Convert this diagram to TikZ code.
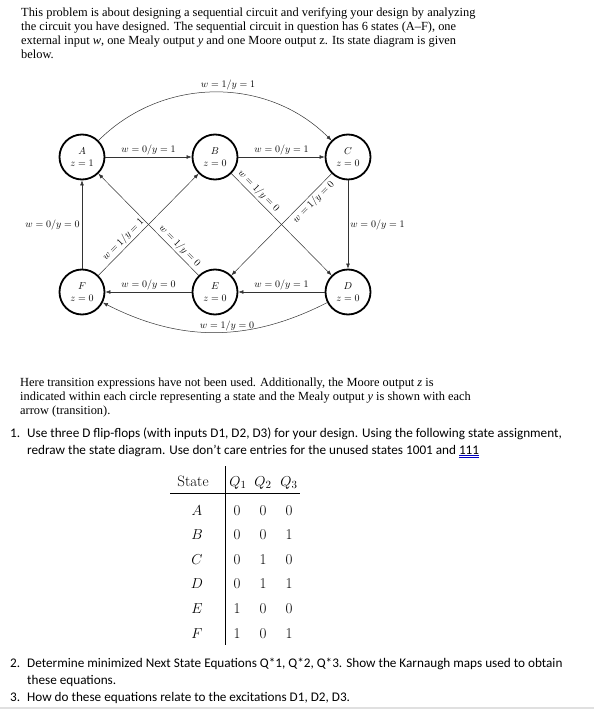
\documentclass[tikz,border=0pt]{standalone}
\usepackage{fontspec}
\newfontfamily\parafont{Liberation Serif}
\newfontfamily\calfont{Carlito}
\usetikzlibrary{arrows.meta}
\begin{document}
\begin{tikzpicture}[x=1pt,y=-1pt,
  state/.style={circle,draw,line width=1.8pt,minimum size=45pt,inner sep=0pt,align=center,font=\normalsize},
  tr/.style={line width=0.5pt,draw=black!80,-{Latex[length=5pt,width=3.8pt]}},
  lbl/.style={font=\normalsize,inner sep=2pt},
  ptxt/.style={anchor=base west,inner sep=0pt,font=\parafont\fontsize{12.4}{14}\selectfont},
  ctxt/.style={anchor=base west,inner sep=0pt,font=\calfont\fontsize{13.2}{15}\selectfont},
  tb/.style={anchor=base,inner sep=0pt,font=\fontsize{15}{18}\selectfont}]
\useasboundingbox (0,0) rectangle (594,709);
% paragraph 1
\node[ptxt] (p1) at (21,17) {This problem is about designing a sequential circuit and verifying your design by analyzing};
\node[ptxt] (p2) at (21,30.7) {the circuit you have designed. The sequential circuit in question has 6 states (A–F), one};
\node[ptxt] (p3) at (21,44.4) {external input \textit{w}, one Mealy output \textit{y} and one Moore output z. Its state diagram is given};
\node[ptxt] (p4) at (21,58.1) {below.};
% states
\node[state] (A) at (82,157) {$A$\\$z=1$};
\node[state] (B) at (215,157) {$B$\\$z=0$};
\node[state] (C) at (348,157) {$C$\\$z=0$};
\node[state] (F) at (82,292) {$F$\\$z=0$};
\node[state] (E) at (215,292) {$E$\\$z=0$};
\node[state] (D) at (348,292) {$D$\\$z=0$};
% transitions
\draw[tr] (A) -- node[above,lbl] (lab1) {$w=0/y=1$} (B);
\draw[tr] (B) -- node[above,lbl] (lab2) {$w=0/y=1$} (C);
\draw[tr] (A) to[bend left=45] node[pos=0.5,above,lbl,xshift=13pt] (lab3) {$w=1/y=1$} (C);
\draw[tr] (C) -- node[right,lbl] (lab4) {$w=0/y=1$} (D);
\draw[tr] (D) -- node[above,lbl] (lab5) {$w=0/y=1$} (E);
\draw[tr] (E) -- node[above,lbl] (lab6) {$w=0/y=0$} (F);
\draw[tr] (F) -- node[left,lbl] (lab7) {$w=0/y=0$} (A);
\draw[tr] (D) to[bend left=27] node[pos=0.5,above,lbl,inner sep=1pt,xshift=12pt] (lab8) {$w=1/y=0$} (F);
\draw[tr] (F) -- node[sloped,above,pos=0.3,lbl] (lab9) {$w=1/y=1$} (B);
\draw[tr] (E) -- node[sloped,above,pos=0.24,lbl] (lab10) {$w=1/y=0$} (A);
\draw[tr] (B) -- node[sloped,above,pos=0.22,lbl] (lab11) {$w=1/y=0$} (D);
\draw[tr] (C) -- node[sloped,below,pos=0.23,lbl] (lab12) {$w=1/y=0$} (E);
% paragraph 2
\node[ptxt] (q1) at (20,386) {Here transition expressions have not been used. Additionally, the Moore output \textit{z} is};
\node[ptxt] (q2) at (20,400) {indicated within each circle representing a state and the Mealy output \textit{y} is shown with each};
\node[ptxt] (q3) at (20,414) {arrow (transition).};
% item 1
\node[ctxt] (n1) at (10,437) {1.};
\node[ctxt] (i1a) at (27,437) {Use three D flip-flops (with inputs D1, D2, D3) for your design. Using the following state assignment,};
\node[ctxt] (i1b) at (27,454) {redraw the state diagram. Use don’t care entries for the unused states 1001 and \textcolor{blue!75!black}{\underline{\underline{\textcolor{black}{111}}}}};
% table
\coordinate (vt) at (225,466);
\coordinate (vb) at (225,645);
\coordinate (hl) at (170,493);
\coordinate (hr) at (300,493);
\draw[line width=0.5pt] (vt) -- (vb);
\draw[line width=0.5pt] (hl) -- (hr);
\node[tb] (hs) at (193,486) {State};
\node[tb] (h1) at (238,486) {$Q_1$};
\node[tb] (h2) at (263,486) {$Q_2$};
\node[tb] (h3) at (289,486) {$Q_3$};
\foreach \s/\a/\b/\c [count=\i from 0] in {A/0/0/0,B/0/0/1,C/0/1/0,D/0/1/1,E/1/0/0,F/1/0/1}{
  \node[tb] (r\i) at (197,515+24.6*\i) {$\s$};
  \node[tb] (ra\i) at (237,515+24.6*\i) {\a};
  \node[tb] (rb\i) at (263,515+24.6*\i) {\b};
  \node[tb] (rc\i) at (289,515+24.6*\i) {\c};
}
% items 2, 3
\node[ctxt] (n2) at (10,667) {2.};
\node[ctxt] (i2a) at (27,667) {Determine minimized Next State Equations Q*1, Q*2, Q*3. Show the Karnaugh maps used to obtain};
\node[ctxt] (i2b) at (27,684) {these equations.};
\node[ctxt] (n3) at (10,701) {3.};
\node[ctxt] (i3) at (27,701) {How do these equations relate to the excitations D1, D2, D3.};
\coordinate (gl) at (0,708);
\coordinate (gr) at (594,708);
\draw[black!12,line width=1.5pt] (gl) -- (gr);
\end{tikzpicture}
\end{document}
